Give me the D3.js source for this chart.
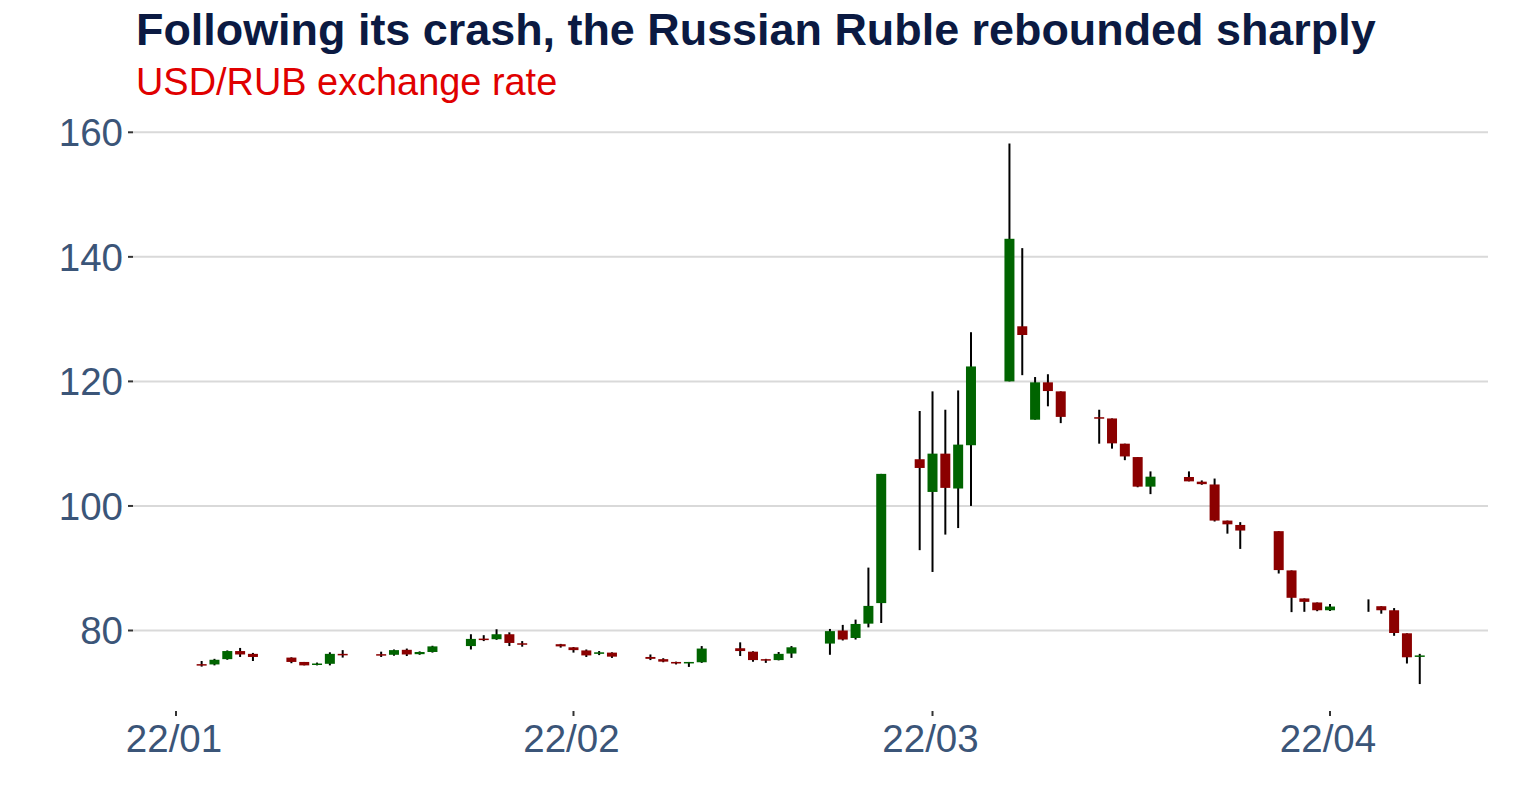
<!DOCTYPE html>
<html>
<head>
<meta charset="utf-8">
<script src="https://cdn.jsdelivr.net/npm/d3@7"></script>
<style>
  body { margin: 0; background: #fff; }
  svg { display: block; font-family: "Liberation Sans", Arial, sans-serif; }
</style>
</head>
<body>
<svg id="chart" width="1536" height="811"></svg>
<script>
/*
  CANDLESTICK
  USD/RUB daily open / high / low / close, Jan - Apr 2022
*/

// trading days
const dates = [
  '2022-01-03', '2022-01-04', '2022-01-05', '2022-01-06', '2022-01-07',
  '2022-01-10', '2022-01-11', '2022-01-12', '2022-01-13', '2022-01-14',
  '2022-01-17', '2022-01-18', '2022-01-19', '2022-01-20', '2022-01-21',
  '2022-01-24', '2022-01-25', '2022-01-26', '2022-01-27', '2022-01-28',
  '2022-01-31', '2022-02-01', '2022-02-02', '2022-02-03', '2022-02-04',
  '2022-02-07', '2022-02-08', '2022-02-09', '2022-02-10', '2022-02-11',
  '2022-02-14', '2022-02-15', '2022-02-16', '2022-02-17', '2022-02-18',
  '2022-02-21', '2022-02-22', '2022-02-23', '2022-02-24', '2022-02-25',
  '2022-02-28', '2022-03-01', '2022-03-02', '2022-03-03', '2022-03-04',
  '2022-03-07', '2022-03-08', '2022-03-09', '2022-03-10', '2022-03-11',
  '2022-03-14', '2022-03-15', '2022-03-16', '2022-03-17', '2022-03-18',
  '2022-03-21', '2022-03-22', '2022-03-23', '2022-03-24', '2022-03-25',
  '2022-03-28', '2022-03-29', '2022-03-30', '2022-03-31', '2022-04-01',
  '2022-04-04', '2022-04-05', '2022-04-06', '2022-04-07', '2022-04-08'
];

const open = [
  74.6, 74.55, 75.4, 76.7, 76.25,
  75.65, 74.95, 74.5, 74.65, 76.25,
  76.2, 76.1, 76.9, 76.2, 76.55,
  77.5, 78.7, 78.6, 79.4, 77.95,
  77.8, 77.3, 76.8, 76.25, 76.45,
  75.75, 75.4, 74.95, 74.75, 74.9,
  77.15, 76.6, 75.4, 75.25, 76.3,
  77.9, 80.0, 78.8, 81.1, 84.4,
  107.5, 102.25, 108.4, 102.8, 109.75,
  120.0, 128.85, 113.85, 119.85, 118.4,
  114.25, 114.05, 110.0, 107.85, 103.1,
  104.65, 103.9, 103.45, 97.65, 96.95,
  95.95, 89.65, 85.15, 84.5, 83.25,
  84.0, 83.9, 83.25, 79.55, 75.9
];

const high = [
  75.1, 75.45, 76.8, 77.2, 76.4,
  75.7, 74.95, 74.85, 76.5, 76.85,
  76.6, 76.95, 77.1, 76.65, 77.55,
  79.4, 79.25, 80.2, 79.7, 78.3,
  77.85, 77.35, 76.95, 76.7, 76.5,
  76.15, 75.55, 75.0, 74.95, 77.5,
  78.1, 76.65, 75.45, 76.55, 77.5,
  80.25, 80.9, 81.75, 90.1, 105.15,
  115.25, 118.4, 115.45, 118.55, 127.9,
  158.2, 141.4, 120.7, 121.15, 118.4,
  115.45, 114.05, 110.0, 107.85, 105.55,
  105.55, 104.1, 104.4, 97.65, 97.4,
  95.95, 89.65, 85.15, 84.5, 84.25,
  85.0, 83.9, 83.6, 79.55, 76.25
];

const low = [
  74.2, 74.4, 75.3, 75.75, 75.1,
  74.75, 74.4, 74.4, 74.4, 75.65,
  75.75, 75.95, 75.9, 76.1, 76.45,
  76.95, 78.3, 78.5, 77.5, 77.4,
  77.25, 76.45, 75.75, 76.05, 75.6,
  75.25, 74.9, 74.55, 74.15, 74.8,
  75.9, 75.0, 74.8, 75.2, 75.6,
  76.1, 78.4, 78.55, 80.5, 81.2,
  92.9, 89.4, 95.4, 96.45, 100.0,
  120.0, 121.0, 113.85, 116.0, 113.3,
  110.0, 109.2, 107.35, 103.0, 101.9,
  103.95, 103.4, 97.5, 95.55, 93.1,
  89.15, 82.95, 83.0, 83.1, 83.15,
  83.0, 82.7, 79.15, 74.7, 71.4
];

const close = [
  74.55, 75.3, 76.7, 76.15, 75.75,
  74.95, 74.4, 74.7, 76.25, 76.15,
  76.12, 76.85, 76.15, 76.55, 77.45,
  78.65, 78.6, 79.4, 78.0, 77.85,
  77.45, 76.85, 76.0, 76.5, 75.8,
  75.45, 75.0, 74.7, 74.95, 77.1,
  76.7, 75.25, 75.3, 76.25, 77.3,
  79.9, 78.55, 81.05, 83.95, 105.15,
  106.1, 108.4, 102.9, 109.85, 122.4,
  142.9, 127.45, 119.85, 118.45, 114.3,
  114.15, 110.05, 107.95, 103.1, 104.7,
  103.95, 103.5, 97.65, 97.05, 96.05,
  89.7, 85.25, 84.6, 83.25, 83.85,
  84.0, 83.25, 79.6, 75.7, 76.0
];

const yTicks = [80, 100, 120, 140, 160];
const xTicks = ['2022-01-01', '2022-02-01', '2022-03-01', '2022-04-01'];

const TITLE = 'Following its crash, the Russian Ruble rebounded sharply';
const SUBTITLE = 'USD/RUB exchange rate';

const COLOR_UP = '#006400';
const COLOR_DOWN = '#8b0000';
const COLOR_TEXT = '#3b5578';

const parse = d3.utcParse('%Y-%m-%d');

const candles = dates.map((d, i) => ({
  date: parse(d),
  open: open[i],
  high: high[i],
  low: low[i],
  close: close[i]
}));

// Dimension of the plot panel
const margin = { left: 133, right: 1488, top: 132, bottom: 700 };
const BODY_WIDTH = 10;

/**
 * Create scales
 */
const scale = {};
scale.x = d3.scaleUtc()
  .domain([parse(xTicks[0]), parse(xTicks[3])])
  .range([176, 1330]);

scale.y = d3.scaleLinear()
  .domain([80, 160])
  .range([630.5, 132.3]);

const svg = d3.select('#chart');

/*
 * Titles
 */
svg.append('text')
  .attr('x', 136)
  .attr('y', 45)
  .style('font-size', '44.9px')
  .style('font-weight', 'bold')
  .style('fill', '#0b1a42')
  .text(TITLE);

svg.append('text')
  .attr('x', 136)
  .attr('y', 95)
  .style('font-size', '37.9px')
  .style('fill', '#e00000')
  .text(SUBTITLE);

/*
 * Grid and y axis
 */
const grid = svg.append('g').attr('class', 'grid');

grid.selectAll('line')
  .data(yTicks)
  .enter()
  .append('line')
  .attr('x1', margin.left)
  .attr('x2', margin.right)
  .attr('y1', d => scale.y(d))
  .attr('y2', d => scale.y(d))
  .style('stroke', '#d9d9d9')
  .style('stroke-width', 2);

const yAxis = svg.append('g').attr('class', 'yAxis');

yAxis.selectAll('line')
  .data(yTicks)
  .enter()
  .append('line')
  .attr('x1', margin.left - 5)
  .attr('x2', margin.left)
  .attr('y1', d => scale.y(d))
  .attr('y2', d => scale.y(d))
  .style('stroke', '#333')
  .style('stroke-width', 2);

yAxis.selectAll('text')
  .data(yTicks)
  .enter()
  .append('text')
  .attr('x', margin.left - 10)
  .attr('y', d => scale.y(d))
  .attr('dy', '0.36em')
  .attr('text-anchor', 'end')
  .style('font-size', '38.5px')
  .style('fill', COLOR_TEXT)
  .text(d => d);

/*
 * x axis: month ticks
 */
const xAxis = svg.append('g').attr('class', 'xAxis');
const fmt = d3.utcFormat('%y/%m');

xAxis.selectAll('line')
  .data(xTicks.map(parse))
  .enter()
  .append('line')
  .attr('x1', d => scale.x(d))
  .attr('x2', d => scale.x(d))
  .attr('y1', 711)
  .attr('y2', 716)
  .style('stroke', '#333')
  .style('stroke-width', 2);

xAxis.selectAll('text')
  .data(xTicks.map(parse))
  .enter()
  .append('text')
  .attr('x', d => scale.x(d) - 2)
  .attr('y', 752)
  .attr('text-anchor', 'middle')
  .style('font-size', '38.5px')
  .style('fill', COLOR_TEXT)
  .text(d => fmt(d));

/*
 * Candles: wick first, body on top
 */
const dom = svg.append('g').attr('class', 'candles');

const candle = dom.selectAll('g')
  .data(candles)
  .enter()
  .append('g');

candle.append('line')
  .attr('x1', d => scale.x(d.date))
  .attr('x2', d => scale.x(d.date))
  .attr('y1', d => scale.y(d.high))
  .attr('y2', d => scale.y(d.low))
  .style('stroke', '#000')
  .style('stroke-width', 2);

candle.filter(d => d.open !== d.close)
  .append('rect')
  .attr('x', d => scale.x(d.date) - BODY_WIDTH / 2)
  .attr('width', BODY_WIDTH)
  .attr('y', d => scale.y(Math.max(d.open, d.close)))
  .attr('height', d => Math.max(1.5, Math.abs(scale.y(d.open) - scale.y(d.close))))
  .style('fill', d => d.close > d.open ? COLOR_UP : COLOR_DOWN);
</script>
</body>
</html>
